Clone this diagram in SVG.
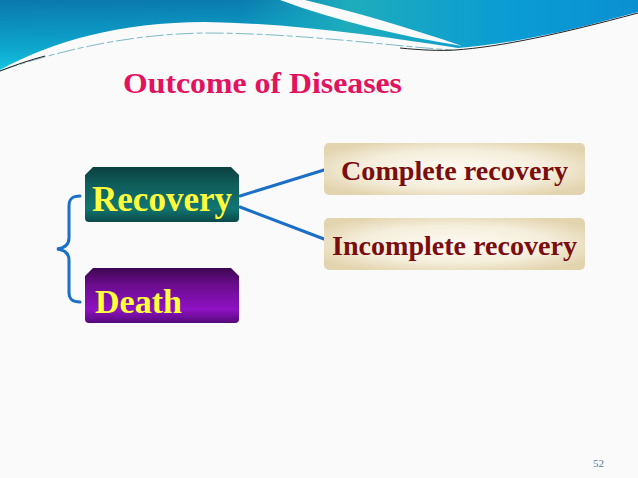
<svg xmlns="http://www.w3.org/2000/svg" width="638" height="478" viewBox="0 0 638 478">
<defs>
<linearGradient id="hdr" x1="0" y1="0" x2="0.12" y2="1">
<stop offset="0" stop-color="#0a78ac"/>
<stop offset="0.6" stop-color="#0ea6cc"/>
<stop offset="1" stop-color="#16d6ea"/>
</linearGradient>
<linearGradient id="hdr2" x1="0" y1="0" x2="1" y2="0">
<stop offset="0" stop-color="#1aacc0" stop-opacity="0"/>
<stop offset="0.38" stop-color="#1aacc0" stop-opacity="0"/>
<stop offset="0.55" stop-color="#1eacbc" stop-opacity="1"/>
<stop offset="0.8" stop-color="#0a9cd4" stop-opacity="1"/>
<stop offset="1" stop-color="#0a90d2" stop-opacity="1"/>
</linearGradient>
<linearGradient id="teal" x1="0" y1="0" x2="0" y2="1">
<stop offset="0" stop-color="#0b3f3e"/>
<stop offset="0.3" stop-color="#0f5c5a"/>
<stop offset="0.75" stop-color="#127673"/>
<stop offset="1" stop-color="#0a4947"/>
</linearGradient>
<linearGradient id="purp" x1="0" y1="0" x2="0" y2="1">
<stop offset="0" stop-color="#3e0752"/>
<stop offset="0.3" stop-color="#6a0c8c"/>
<stop offset="0.75" stop-color="#8e12c4"/>
<stop offset="1" stop-color="#56097a"/>
</linearGradient>
<radialGradient id="tan" cx="0.5" cy="0.5" r="0.6">
<stop offset="0" stop-color="#fdfaf2"/>
<stop offset="0.6" stop-color="#f5eedc"/>
<stop offset="1" stop-color="#e2d4ae"/>
</radialGradient>
<style>
.conn{fill:none;stroke:#1b6fc6;stroke-width:3;stroke-linecap:round}
.big{font-family:"Liberation Serif","Times New Roman",serif;font-weight:bold;fill:#ffff3c}
.out{font-family:"Liberation Serif","Times New Roman",serif;font-weight:bold;fill:#7a0d0d;font-size:27px}
</style>
</defs>
<rect width="638" height="478" fill="#fafafa"/>
<g id="header">
<rect x="0" y="0" width="638" height="80" fill="url(#hdr)"/>
<rect x="0" y="0" width="638" height="80" fill="url(#hdr2)"/>
<path d="M0,70 C50,42 120,22 205,22 C290,23 380,36 458,48 C520,43 580,28 638,12 L638,478 L0,478 Z" fill="#fafafa"/>
<path d="M280,0 L305,0 C355,12 410,28 462,46 C400,36 340,22 280,0 Z" fill="#fafafa"/>
<path d="M0,71 C60,50 130,34 205,33 C300,33 390,46 452,50" fill="none" stroke="#5aa8b4" stroke-width="0.8" stroke-dasharray="18,3,6,3"/>
<path d="M0,71 C15,65 30,60 45,56" fill="none" stroke="#222" stroke-width="1"/>
<path d="M400,48 C420,50 440,51 455,50 C500,47 560,34 638,13" fill="none" stroke="#222" stroke-width="1"/>
</g>
<text x="123" y="93" font-family="Liberation Serif,'Times New Roman',serif" font-weight="bold" font-size="29" fill="#e3125f" textLength="279" lengthAdjust="spacingAndGlyphs">Outcome of Diseases</text>
<g id="connectors">
<path class="conn" d="M240,196 L324,170"/>
<path class="conn" d="M240,207 L324,239"/>
<path class="conn" d="M80,196 C72,196 69,199 69,206 L69,238 C69,245 65,248 57,249 C65,250 69,253 69,260 L69,292 C69,299 72,302 80,302"/>
</g>
<g id="recovery">
<path d="M93,167 L231,167 L239,175 L239,218 Q239,222 235,222 L89,222 Q85,222 85,218 L85,175 Z" fill="url(#teal)"/>
<text class="big" x="92" y="211" font-size="35" textLength="140" lengthAdjust="spacingAndGlyphs">Recovery</text>
</g>
<g id="death">
<path d="M93,268 L231,268 L239,276 L239,319 Q239,323 235,323 L89,323 Q85,323 85,319 L85,276 Z" fill="url(#purp)"/>
<text class="big" x="95" y="313" font-size="34" textLength="87" lengthAdjust="spacingAndGlyphs">Death</text>
</g>
<g id="complete">
<rect x="324" y="143" width="261" height="52" rx="5" fill="url(#tan)"/>
<text class="out" x="341" y="180" textLength="227" lengthAdjust="spacingAndGlyphs">Complete recovery</text>
</g>
<g id="incomplete">
<rect x="324" y="218" width="261" height="52" rx="5" fill="url(#tan)"/>
<text class="out" x="332" y="255" textLength="245" lengthAdjust="spacingAndGlyphs">Incomplete recovery</text>
</g>
<text x="593" y="467" font-family="Liberation Serif,'Times New Roman',serif" font-size="11" fill="#5a7896">52</text>
</svg>
